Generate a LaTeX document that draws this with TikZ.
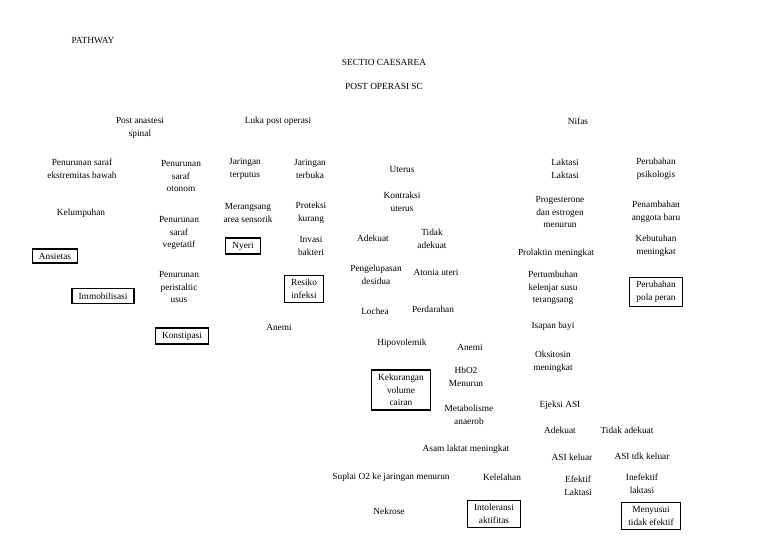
\documentclass[tikz,border=0pt]{standalone}
\usepackage{fontspec}
\setmainfont{Liberation Serif}
\begin{document}
\begin{tikzpicture}[x=0.75pt,y=-0.75pt,
  t/.style={align=center,font=\fontsize{7}{9.5}\selectfont,inner sep=1pt},
  bx/.style={t,draw,line width=1.1pt,inner xsep=5pt,inner ysep=3pt}]
\useasboundingbox (0,0) rectangle (768,543);
\node[t] (a1) at (93,40) {PATHWAY};
\node[t] (a2) at (384,62) {SECTIO CAESAREA};
\node[t] (a3) at (384,86) {POST OPERASI SC};
\node[t] (b1) at (140,128) {Post anastesi\\spinal};
\node[t] (b2) at (278,121) {Luka post operasi};
\node[t] (b3) at (578,121) {Nifas};
\node[t] (c1) at (82,169) {Penurunan saraf\\ekstremitas bawah};
\node[t] (c2) at (181,176) {Penurunan\\saraf\\otonom};
\node[t] (c3) at (245,169) {Jaringan\\terputus};
\node[t] (c4) at (310,169) {Jaringan\\terbuka};
\node[t] (c5) at (402,169) {Uterus};
\node[t] (c6) at (565,169) {Laktasi\\Laktasi};
\node[t] (c7) at (656,169) {Perubahan\\psikologis};
\node[t] (d1) at (81,213) {Kelumpuhan};
\node[t] (d2) at (179,233) {Penurunan\\saraf\\vegetatif};
\node[t] (d3) at (248,213) {Merangsang\\area sensorik};
\node[t] (d4) at (311,213) {Proteksi\\kurang};
\node[t] (d5) at (402,202) {Kontraksi\\uterus};
\node[t] (d6) at (560,212) {Progesterone\\dan estrogen\\menurun};
\node[t] (d7) at (656,212) {Penambahan\\anggota baru};
\node[bx] (e1) at (243,246) {Nyeri};
\node[t] (e2) at (311,246) {Invasi\\bakteri};
\node[t] (e3) at (373,238) {Adekuat};
\node[t] (e4) at (432,239) {Tidak\\adekuat};
\node[t] (e5) at (656,246) {Kebutuhan\\meningkat};
\node[bx] (e6) at (55,256) {Ansietas};
\node[t] (e7) at (556,253) {Prolaktin meningkat};
\node[t] (f1) at (179,287) {Penurunan\\peristaltic\\usus};
\node[t] (f2) at (376,275) {Pengelupasan\\desidua};
\node[t] (f3) at (436,272) {Atonia uteri};
\node[t] (f4) at (553,288) {Pertumbuhan\\kelenjar susu\\terangsang};
\node[bx] (f5) at (304,289) {Resiko\\infeksi};
\node[bx] (f6) at (656,292) {Perubahan\\pola peran};
\node[bx] (f7) at (103,296) {Immobilisasi};
\node[t] (g1) at (375,311) {Lochea};
\node[t] (g2) at (433,309) {Perdarahan};
\node[t] (g3) at (279,327) {Anemi};
\node[bx] (g4) at (182,336) {Konstipasi};
\node[t] (g5) at (553,326) {Isapan bayi};
\node[t] (h1) at (402,343) {Hipovolemik};
\node[t] (h2) at (470,347) {Anemi};
\node[t] (h3) at (553,362) {Oksitosin\\meningkat};
\node[t] (h4) at (466,377) {HbO2\\Menurun};
\node[bx] (h5) at (401,390) {Kekurangan\\volume\\cairan};
\node[t] (i1) at (469,415) {Metabolisme\\anaerob};
\node[t] (i2) at (560,405) {Ejeksi ASI};
\node[t] (i3) at (560,430) {Adekuat};
\node[t] (i4) at (627,430) {Tidak adekuat};
\node[t] (j1) at (466,449) {Asam laktat meningkat};
\node[t] (j2) at (572,457) {ASI keluar};
\node[t] (j3) at (642,456) {ASI tdk keluar};
\node[t] (k1) at (391,477) {Suplai O2 ke jaringan menurun};
\node[t] (k2) at (502,477) {Kelelahan};
\node[t] (k3) at (578,486) {Efektif\\Laktasi};
\node[t] (k4) at (642,484) {Inefektif\\laktasi};
\node[t] (l1) at (389,511) {Nekrose};
\node[bx] (l2) at (494,514) {Intoleransi\\aktifitas};
\node[bx] (l3) at (651,516) {Menyusui\\tidak efektif};
\end{tikzpicture}
\end{document}
